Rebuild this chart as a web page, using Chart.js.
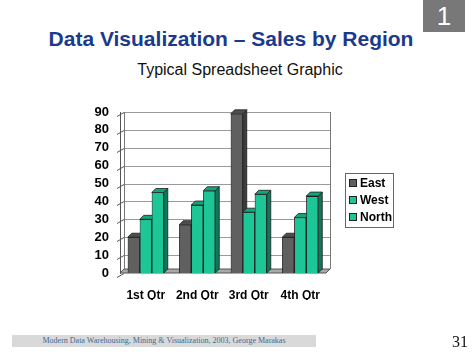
<!DOCTYPE html>
<html>
<head>
<meta charset="utf-8">
<script src="https://cdn.jsdelivr.net/npm/chart.js@4/dist/chart.umd.min.js"></script>
<style>
  html, body { margin: 0; padding: 0; background: #fff; }
  body { width: 474px; height: 355px; position: relative; overflow: hidden; font-family: "Liberation Sans", Arial, sans-serif; }
  #title { position: absolute; left: 0; width: 462px; top: 27px; text-align: center; font-weight: bold; font-size: 21px; color: #1b3a8c; white-space: nowrap; }
  #subtitle { position: absolute; left: 0; width: 480px; top: 61px; text-align: center; font-size: 16px; color: #111; white-space: nowrap; }
  #slidebox { position: absolute; left: 423px; top: 0; width: 42px; height: 32px; background: #787878; color: #fff; font-size: 26px; text-align: center; line-height: 32px; }
  #footer { position: absolute; left: 12px; top: 335px; width: 304px; height: 12px; background: #d9d9d9; color: #3d6b96; font-family: "Liberation Serif", "DejaVu Serif", serif; font-size: 8px; line-height: 12px; text-align: center; white-space: nowrap; }
  #pagenum { position: absolute; left: 452px; top: 333px; font-family: "Liberation Serif", serif; font-size: 16px; color: #111; }
  #c { position: absolute; left: 0; top: 0; }
</style>
</head>
<body>
<div id="title">Data Visualization – Sales by Region</div>
<div id="subtitle">Typical Spreadsheet Graphic</div>
<div id="slidebox">1</div>
<canvas id="c" width="474" height="355"></canvas>
<div id="footer">Modern Data Warehousing, Mining &amp; Visualization, 2003, George Marakas</div>
<div id="pagenum">31</div>
<script>
const categories = ["1st Qtr", "2nd Qtr", "3rd Qtr", "4th Qtr"];
const eastValues = [20, 27, 89, 20];
const westValues = [30, 38, 34, 31];
const northValues = [45, 46, 44, 43];
const yTicks = [0, 10, 20, 30, 40, 50, 60, 70, 80, 90];

const DEPTH = 4;
const sideColors = { East: ["#3c3c3c", "#4e4e4e"], West: ["#0c7a5a", "#13a47b"], North: ["#0c7a5a", "#13a47b"] };

const wallPlugin = {
  id: 'wall',
  beforeDatasetsDraw(chart) {
    const { ctx, chartArea: a, scales: { y } } = chart;
    ctx.save();
    ctx.lineWidth = 1;
    // back wall grid lines
    yTicks.forEach(t => {
      const py = Math.round(y.getPixelForValue(t)) + 0.5;
      if (t > 0) {
        ctx.strokeStyle = '#9a9a9a';
        ctx.beginPath();
        ctx.moveTo(a.left + DEPTH, py);
        ctx.lineTo(a.right + DEPTH, py);
        ctx.stroke();
      }
      ctx.strokeStyle = '#555';
      ctx.beginPath();
      ctx.moveTo(a.left - 3, py + DEPTH);
      ctx.lineTo(a.left + DEPTH, py);
      ctx.stroke();
    });
    // walls
    ctx.strokeStyle = '#777';
    ctx.beginPath();
    ctx.moveTo(a.left + DEPTH + 0.5, a.top);
    ctx.lineTo(a.left + DEPTH + 0.5, a.bottom - DEPTH);
    ctx.moveTo(a.right + DEPTH + 0.5, a.top);
    ctx.lineTo(a.right + DEPTH + 0.5, a.bottom - DEPTH);
    ctx.stroke();
    // floor
    ctx.fillStyle = '#a8a8a8';
    ctx.strokeStyle = '#555';
    ctx.beginPath();
    ctx.moveTo(a.left, a.bottom);
    ctx.lineTo(a.right, a.bottom);
    ctx.lineTo(a.right + DEPTH, a.bottom - DEPTH);
    ctx.lineTo(a.left + DEPTH, a.bottom - DEPTH);
    ctx.closePath();
    ctx.fill();
    ctx.stroke();
    ctx.restore();
  },
  afterDatasetsDraw(chart) {
    const { ctx } = chart;
    ctx.save();
    chart.data.datasets.forEach((ds, i) => {
      const meta = chart.getDatasetMeta(i);
      const cols = sideColors[ds.label];
      meta.data.forEach(el => {
        el.draw(ctx);
        const p = el.getProps(['x', 'y', 'base', 'width'], true);
        const l = p.x - p.width / 2, r = p.x + p.width / 2;
        ctx.lineWidth = 0.8;
        ctx.strokeStyle = '#1e1e1e';
        ctx.fillStyle = cols[0];
        ctx.beginPath();
        ctx.moveTo(r, p.y);
        ctx.lineTo(r + DEPTH, p.y - DEPTH);
        ctx.lineTo(r + DEPTH, p.base - DEPTH);
        ctx.lineTo(r, p.base);
        ctx.closePath();
        ctx.fill(); ctx.stroke();
        ctx.fillStyle = cols[1];
        ctx.beginPath();
        ctx.moveTo(l, p.y);
        ctx.lineTo(l + DEPTH, p.y - DEPTH);
        ctx.lineTo(r + DEPTH, p.y - DEPTH);
        ctx.lineTo(r, p.y);
        ctx.closePath();
        ctx.fill(); ctx.stroke();
      });
    });
    ctx.restore();
  }
};

const legendPlugin = {
  id: 'boxLegend',
  afterDraw(chart) {
    const { ctx } = chart;
    const x0 = 345.5, y0 = 173.5, w = 48, h = 54;
    ctx.save();
    ctx.strokeStyle = '#666';
    ctx.lineWidth = 1;
    ctx.strokeRect(x0, y0, w, h);
    ctx.font = 'bold 12px "Liberation Sans", Arial, sans-serif';
    ctx.textBaseline = 'middle';
    chart.data.datasets.forEach((ds, i) => {
      const cy = 183 + i * 17;
      ctx.fillStyle = ds.backgroundColor;
      ctx.fillRect(349, cy - 4, 8, 8);
      ctx.strokeStyle = '#222';
      ctx.strokeRect(349.5, cy - 3.5, 7, 7);
      ctx.fillStyle = '#000';
      ctx.fillText(ds.label, 360, cy + 0.5);
    });
    ctx.restore();
  }
};

new Chart(document.getElementById('c'), {
  type: 'bar',
  data: {
    labels: categories,
    datasets: [
      { label: 'East', data: eastValues, backgroundColor: '#606060' },
      { label: 'West', data: westValues, backgroundColor: '#1cc697' },
      { label: 'North', data: northValues, backgroundColor: '#1cc697' }
    ]
  },
  options: {
    responsive: false,
    animation: false,
    events: [],
    layout: { padding: { left: 90, right: 148, top: 112, bottom: 55 } },
    datasets: { bar: { categoryPercentage: 0.7, barPercentage: 1.0, borderWidth: 0.8, borderColor: '#1e1e1e' } },
    plugins: { legend: { display: false }, tooltip: { enabled: false } },
    scales: {
      x: {
        grid: { display: false },
        border: { display: false },
        ticks: { color: '#000', padding: 7, font: { family: '"Liberation Sans", Arial', size: 12, weight: 'bold' } },
        afterFit(s) { s.height = 27; }
      },
      y: {
        min: 0, max: 90,
        afterBuildTicks(s) { s.ticks = yTicks.map(v => ({ value: v })); },
        grid: { display: false },
        border: { display: true, color: '#555' },
        ticks: { color: '#000', padding: 3, autoSkip: false, font: { family: '"Liberation Sans", Arial', size: 13, weight: 'bold' } },
        afterFit(s) { s.width = 30; }
      }
    }
  },
  plugins: [wallPlugin, legendPlugin]
});
</script>
</body>
</html>
